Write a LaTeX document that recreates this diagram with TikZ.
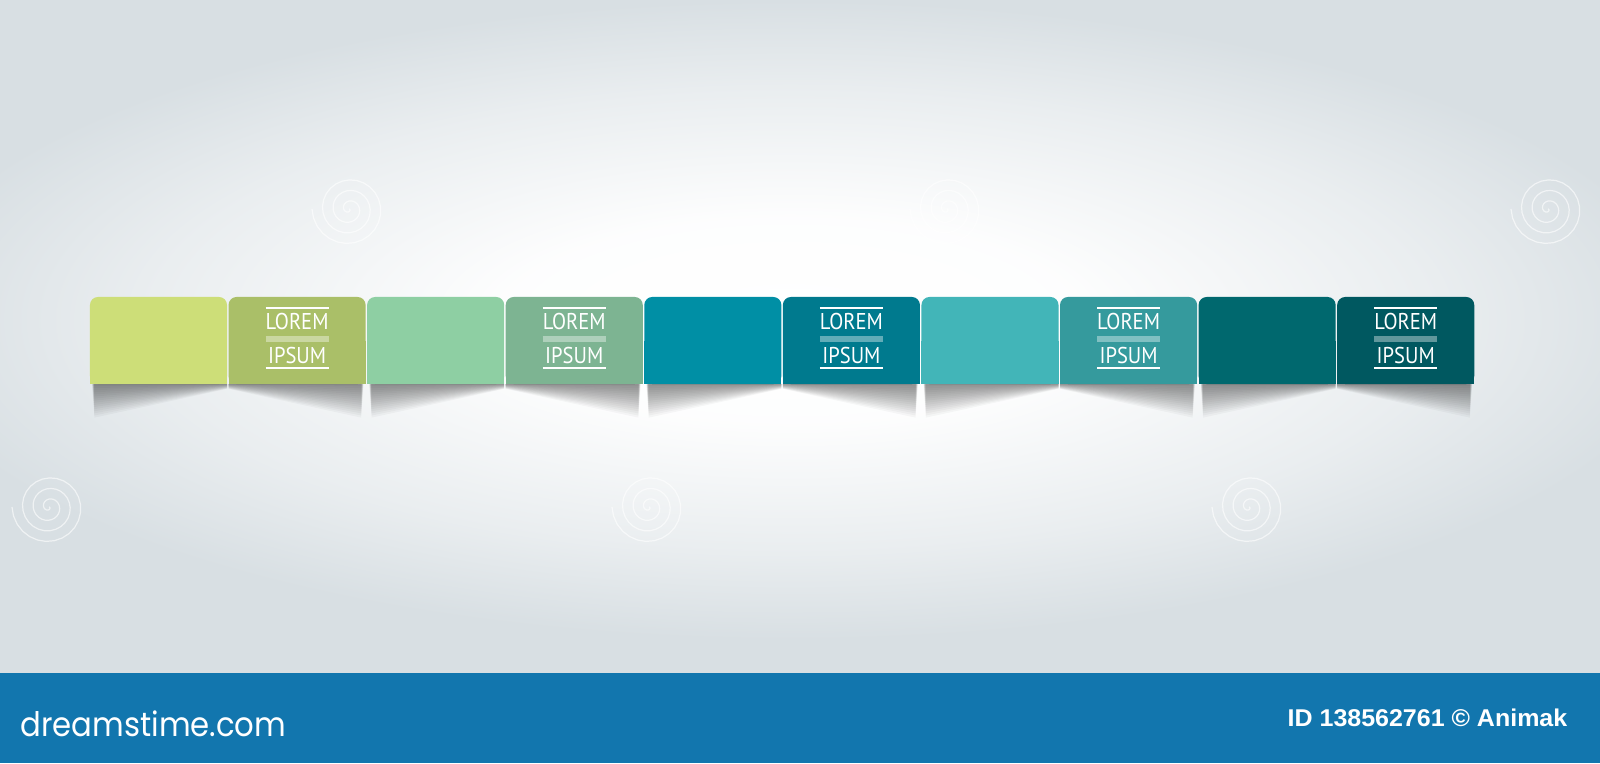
\documentclass[tikz,border=0pt]{standalone}
\usepackage{fontspec}
\usetikzlibrary{calc}
\usetikzlibrary{positioning}
\newfontfamily\lblfont{PT Sans}[FakeStretch=0.9]
\newfontfamily\logofont{Poppins}[FakeStretch=0.91]
\newfontfamily\idfont{Liberation Sans}[FakeStretch=1.03]

\definecolor{bgout}{RGB}{216,223,227}
\definecolor{banner}{RGB}{18,118,174}
\definecolor{boxa}{RGB}{205,222,120}
\definecolor{boxb}{RGB}{170,191,104}
\definecolor{boxc}{RGB}{142,207,163}
\definecolor{boxd}{RGB}{125,180,146}
\definecolor{boxe}{RGB}{0,143,165}
\definecolor{boxf}{RGB}{0,122,142}
\definecolor{boxg}{RGB}{66,181,184}
\definecolor{boxh}{RGB}{53,154,157}
\definecolor{boxi}{RGB}{0,104,110}
\definecolor{boxj}{RGB}{0,88,96}
\pgfdeclareradialshading{glow}{\pgfpoint{0bp}{0bp}}{color(0bp)=(white); color(8bp)=(white!95!bgout); color(18bp)=(white!45!bgout); color(25bp)=(bgout); color(50bp)=(bgout)}

\begin{document}
\begin{tikzpicture}
	[x=0.01cm, y=-0.01cm,
	box/.style = {minimum width=1.37cm, minimum height=0.87cm, inner sep=0pt, outer sep=0pt, rounded corners=0.8mm},
	lbl/.style = {font=\lblfont\fontsize{6.5}{6.5}\selectfont, text=white, inner sep=0pt},
	rule/.style = {white, line width=0.15mm},
	bar/.style = {white, opacity=0.38, line width=0.6mm},
	shade layer/.style = {black, opacity=0.03},
	wmark/.style = {white, opacity=0.6, line width=0.12mm},
	tag/.pic = {
		\node[lbl] (-top) at (0,-19.5) {LOREM};
		\node[lbl] (-bottom) at (0,15) {IPSUM};
		\draw[rule] (-31.5,-32.5) -- (31.5,-32.5);
		\draw[bar] (-31.5,-1.5) -- (31.5,-1.5);
		\draw[rule] (-31.5,27.5) -- (31.5,27.5);
	}
	]
	\useasboundingbox (0,0) rectangle (1600,763);

	% background
	\fill[bgout] (0,0) rectangle (1600,673);
	\begin{scope}
		\clip (0,0) rectangle (1600,673);
		\shade[shading=glow] (790,320) ellipse [x radius=900, y radius=320];
	\end{scope}

	% watermark spirals
	\draw[wmark] plot[domain=0:1260, samples=90, variable=\t] ({349+0.02937*\t*cos(\t)}, {209+0.02937*\t*sin(\t)});
	\draw[wmark] plot[domain=0:1260, samples=90, variable=\t] ({947+0.02937*\t*cos(\t)}, {209+0.02937*\t*sin(\t)});
	\draw[wmark] plot[domain=0:1260, samples=90, variable=\t] ({1548+0.02937*\t*cos(\t)}, {209+0.02937*\t*sin(\t)});
	\draw[wmark] plot[domain=0:1260, samples=90, variable=\t] ({49+0.02937*\t*cos(\t)}, {507+0.02937*\t*sin(\t)});
	\draw[wmark] plot[domain=0:1260, samples=90, variable=\t] ({649+0.02937*\t*cos(\t)}, {507+0.02937*\t*sin(\t)});
	\draw[wmark] plot[domain=0:1260, samples=90, variable=\t] ({1249+0.02937*\t*cos(\t)}, {507+0.02937*\t*sin(\t)});

	% boxes
	\node[box, fill=boxa] (b1) at (158.5,340.5) {};
	\node[box, fill=boxb, right=0.015cm of b1] (b2) {};
	\node[box, fill=boxc, right=0.015cm of b2] (b3) {};
	\node[box, fill=boxd, right=0.015cm of b3] (b4) {};
	\node[box, fill=boxe, right=0.015cm of b4] (b5) {};
	\node[box, fill=boxf, right=0.015cm of b5] (b6) {};
	\node[box, fill=boxg, right=0.015cm of b6] (b7) {};
	\node[box, fill=boxh, right=0.015cm of b7] (b8) {};
	\node[box, fill=boxi, right=0.015cm of b8] (b9) {};
	\node[box, fill=boxj, right=0.015cm of b9] (b10) {};
	\fill[boxa] (b1.west) rectangle (b1.south east);
	\fill[boxb] (b2.west) rectangle (b2.south east);
	\fill[boxc] (b3.west) rectangle (b3.south east);
	\fill[boxd] (b4.west) rectangle (b4.south east);
	\fill[boxe] (b5.west) rectangle (b5.south east);
	\fill[boxf] (b6.west) rectangle (b6.south east);
	\fill[boxg] (b7.west) rectangle (b7.south east);
	\fill[boxh] (b8.west) rectangle (b8.south east);
	\fill[boxi] (b9.west) rectangle (b9.south east);
	\fill[boxj] (b10.west) rectangle (b10.south east);

	% shadows, deep at the outer ends of each pair
	\foreach \l/\r in {b1/b2, b3/b4, b5/b6, b7/b8, b9/b10} {
		\foreach \k in {1,...,16} {
			\fill[shade layer] ($(\l.south west)+(2+0.15*\k,0)$) -- (\l.south east) -- ($(\l.south east)+(0,0.3*\k)$) -- ($(\l.south west)+(2+0.15*\k,2.1*\k)$) -- cycle;
			\fill[shade layer] (\r.south west) -- ($(\r.south east)+(-2-0.15*\k,0)$) -- ($(\r.south east)+(-2-0.15*\k,2.1*\k)$) -- ($(\r.south west)+(0,0.3*\k)$) -- cycle;
		}
	}

	% labels
	\pic (p2) at (b2) {tag};
	\pic (p4) at (b4) {tag};
	\pic (p6) at (b6) {tag};
	\pic (p8) at (b8) {tag};
	\pic (p10) at (b10) {tag};

	% banner
	\fill[banner] (0,673) rectangle (1600,763);
	\node[font=\logofont\fontsize{9.6}{9.6}\selectfont, text=white, anchor=base west, inner sep=0pt] (logo) at (20,736) {dreamstime.com};
	\node[font=\idfont\bfseries\fontsize{6.9}{6.9}\selectfont, text=white, anchor=base east, inner sep=0pt] (credit) at (1568,726) {ID 138562761 © Animak};
\end{tikzpicture}
\end{document}
